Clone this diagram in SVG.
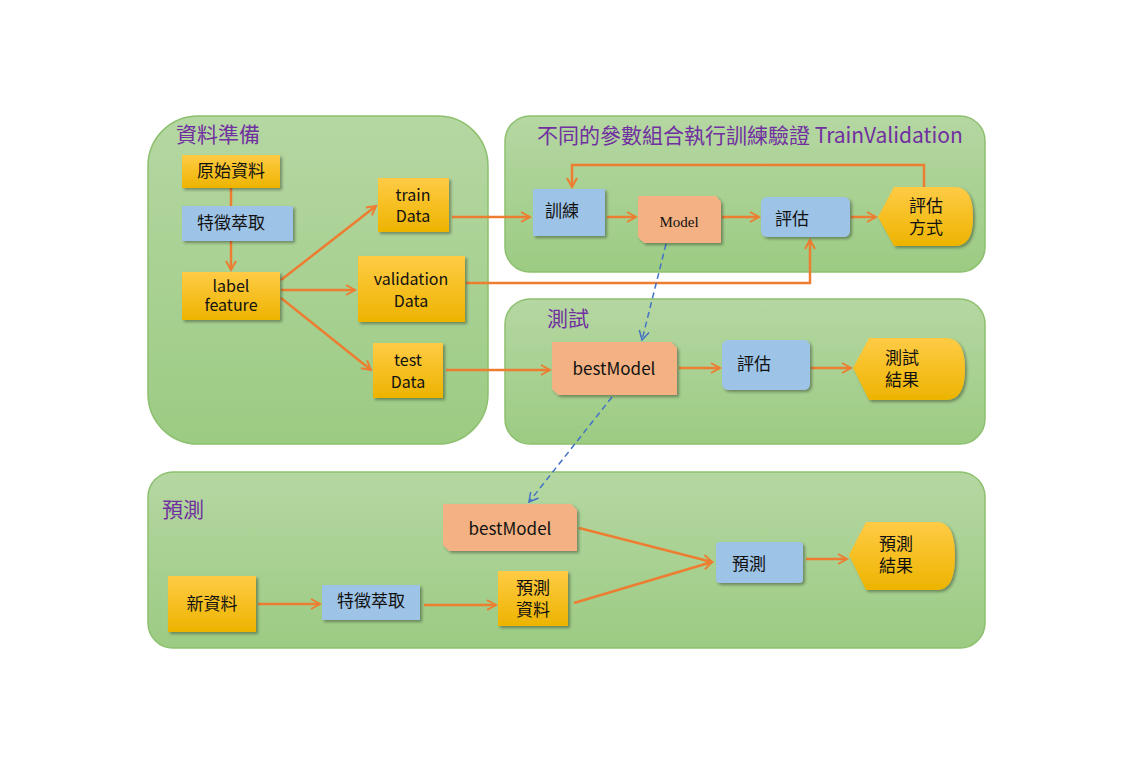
<svg xmlns="http://www.w3.org/2000/svg" width="1138" height="780" viewBox="0 0 1138 780">
<defs>
<linearGradient id="gy" x1="0" y1="0" x2="0" y2="1"><stop offset="0" stop-color="#FFCB45"/><stop offset="1" stop-color="#EDB400"/></linearGradient>
<linearGradient id="gg" x1="0" y1="0" x2="0" y2="1"><stop offset="0" stop-color="#B5D7A2"/><stop offset="1" stop-color="#9CCB83"/></linearGradient>
<marker id="a" viewBox="0 0 12 12" refX="10" refY="6" markerWidth="12" markerHeight="12" markerUnits="userSpaceOnUse" orient="auto"><path d="M1,1 L10,6 L1,11" fill="none" stroke="#ED7D31" stroke-width="2"/></marker>
<marker id="b" viewBox="0 0 12 12" refX="10" refY="6" markerWidth="12" markerHeight="12" markerUnits="userSpaceOnUse" orient="auto"><path d="M1,1 L10,6 L1,11" fill="none" stroke="#4472C4" stroke-width="1.5"/></marker>
<filter id="sh" x="-10%" y="-10%" width="130%" height="130%"><feDropShadow dx="2" dy="2" stdDeviation="1.5" flood-opacity="0.35"/></filter>
</defs>
<style>
.grp{fill:url(#gg);stroke:#8DC06E;stroke-width:1.5}
.y{fill:url(#gy);filter:url(#sh)}
.bl{fill:#9DC3E6;filter:url(#sh)}
.sa{fill:#F4B183;filter:url(#sh)}
.c{fill:none;stroke:#ED7D31;stroke-width:2.5;marker-end:url(#a)}
.p{fill:none;stroke:#ED7D31;stroke-width:2.5}
.d{fill:none;stroke:#4472C4;stroke-width:1.5;stroke-dasharray:6 4;marker-end:url(#b)}
text{font-family:"Microsoft JhengHei","Noto Sans CJK TC","Open Sans",sans-serif;font-size:17px;fill:#111;text-anchor:middle}
.m{font-size:16px}
.t{fill:#7030A0;font-size:21px;text-anchor:start}
</style>
<rect width="1138" height="780" fill="#fff"/>
<g id="groups">
<rect class="grp" x="148" y="116" width="340" height="328" rx="50"/>
<rect class="grp" x="505" y="116" width="480" height="156" rx="25"/>
<rect class="grp" x="505" y="299" width="480" height="145" rx="25"/>
<rect class="grp" x="148" y="472" width="837" height="176" rx="25"/>
<text class="t" x="176" y="142">資料準備</text>
<text class="t" x="537" y="143">不同的參數組合執行訓練驗證 TrainValidation</text>
<text class="t" x="547" y="326">測試</text>
<text class="t" x="162" y="517">預測</text>
</g>
<g id="connectors">
<path class="p" d="M231,188 L231,206"/>
<path class="c" d="M231,241 L231,270"/>
<path class="c" d="M281,280 L376,206"/>
<path class="c" d="M281,290 L355,290"/>
<path class="c" d="M281,298 L371,370"/>
<path class="c" d="M452,217 L530,217"/>
<path class="c" d="M466,283 L810,283 L810,240"/>
<path class="c" d="M446,370 L550,370"/>
<path class="c" d="M607,217 L636,217"/>
<path class="c" d="M722,217 L759,217"/>
<path class="c" d="M851,217 L876,217"/>
<path class="c" d="M924,187 L924,165 L572,165 L572,187"/>
<path class="c" d="M679,368 L720,368"/>
<path class="c" d="M811,368 L851,368"/>
<path class="c" d="M258,604 L320,604"/>
<path class="c" d="M424,605 L496,605"/>
<path class="c" d="M579,528 L712,562"/>
<path class="c" d="M574,603 L712,562"/>
<path class="c" d="M806,559 L847,559"/>
<path class="d" d="M666,244 L642,340"/>
<path class="d" d="M612,397 L529,502"/>
</g>
<g id="n1"><rect class="y" x="182" y="155" width="98" height="33"/><text x="231" y="177">原始資料</text></g>
<g id="n2"><rect class="bl" x="182" y="206" width="111" height="35"/><text x="231" y="229">特徵萃取</text></g>
<g id="n3"><rect class="y" x="182" y="272" width="98" height="48"/><text class="m" x="231" y="292">label</text><text class="m" x="231" y="311">feature</text></g>
<g id="n4"><rect class="y" x="378" y="178" width="71" height="54"/><text class="m" x="413" y="201">train</text><text class="m" x="413" y="222">Data</text></g>
<g id="n5"><rect class="y" x="358" y="256" width="107" height="66"/><text class="m" x="411" y="285">validation</text><text class="m" x="411" y="307">Data</text></g>
<g id="n6"><rect class="y" x="373" y="343" width="70" height="55"/><text class="m" x="408" y="366">test</text><text class="m" x="408" y="388">Data</text></g>
<g id="n7"><rect class="bl" x="533" y="189" width="72" height="47"/><text x="562" y="217">訓練</text></g>
<g id="n8"><path class="sa" d="M638,196 L716,196 L721,202 L721,243 L644,243 L638,237 Z"/><text x="679" y="227" style="font-family:'Liberation Serif',serif;font-size:15px">Model</text></g>
<g id="n9"><rect class="bl" x="761" y="197" width="89" height="40" rx="6"/><text x="792" y="225">評估</text></g>
<g id="n10"><path class="y" d="M878,217 L894,187 L955,187 Q973,187 973,217 Q973,246 955,246 L894,246 Z"/><text x="926" y="212">評估</text><text x="926" y="234">方式</text></g>
<g id="n11"><path class="sa" d="M552,342 L671,342 L677,348 L677,395 L558,395 L552,389 Z"/><text x="614" y="375">bestModel</text></g>
<g id="n12"><rect class="bl" x="722" y="340" width="88" height="50" rx="6"/><text x="754" y="370">評估</text></g>
<g id="n13"><path class="y" d="M853,368 L869,338 L946,338 Q965,338 965,369 Q965,400 946,400 L869,400 Z"/><text x="902" y="364">測試</text><text x="902" y="386">結果</text></g>
<g id="n14"><path class="sa" d="M443,504 L571,504 L577,510 L577,551 L449,551 L443,545 Z"/><text x="510" y="535">bestModel</text></g>
<g id="n15"><rect class="bl" x="716" y="542" width="87" height="41" rx="4"/><text x="749" y="570">預測</text></g>
<g id="n16"><path class="y" d="M849,555 L866,522 L937,522 Q955,522 955,556 Q955,590 937,590 L866,590 Z"/><text x="896" y="550">預測</text><text x="896" y="572">結果</text></g>
<g id="n17"><rect class="y" x="168" y="576" width="88" height="56"/><text x="212" y="610">新資料</text></g>
<g id="n18"><rect class="bl" x="322" y="585" width="98" height="35"/><text x="371" y="607">特徵萃取</text></g>
<g id="n19"><rect class="y" x="498" y="571" width="70" height="55"/><text x="533" y="594">預測</text><text x="533" y="616">資料</text></g>
</svg>
